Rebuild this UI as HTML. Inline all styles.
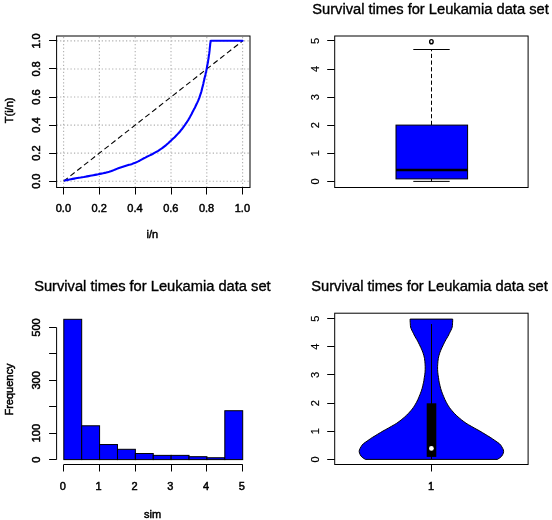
<!DOCTYPE html>
<html><head><meta charset="utf-8"><title>Survival times for Leukamia data set</title>
<style>
html,body{margin:0;padding:0;background:#fff;}
svg{display:block;}
text{font-family:"Liberation Sans",sans-serif;fill:#000;stroke:#000;stroke-width:0.3px;}
.t{font-size:11.6px;text-anchor:middle;stroke-width:0.5px;}
.u{font-size:11.6px;text-anchor:middle;stroke-width:0.2px;}
.m{font-size:14.68px;text-anchor:middle;stroke-width:0.35px;}
.l{stroke:#000;stroke-width:1;fill:none;}
.b{stroke:#000;stroke-width:1;fill:#0000ff;}
.g{stroke:#b0b0b0;stroke-width:1.1;fill:none;stroke-dasharray:1.25 2.22;}
</style></head><body>
<svg width="552" height="520" viewBox="0 0 552 520">
<rect width="552" height="520" fill="#fff"/>

<g id="p1">
<path class="g" d="M63.60 187.5 V36.0"/>
<path class="g" d="M56.6 181.20 H250.0"/>
<path class="g" d="M99.40 187.5 V36.0"/>
<path class="g" d="M56.6 153.14 H250.0"/>
<path class="g" d="M135.20 187.5 V36.0"/>
<path class="g" d="M56.6 125.08 H250.0"/>
<path class="g" d="M171.00 187.5 V36.0"/>
<path class="g" d="M56.6 97.02 H250.0"/>
<path class="g" d="M206.80 187.5 V36.0"/>
<path class="g" d="M56.6 68.96 H250.0"/>
<path class="g" d="M242.60 187.5 V36.0"/>
<path class="g" d="M56.6 40.90 H250.0"/>
<rect class="l" x="56.6" y="36.0" width="193.4" height="151.5"/>
<path class="l" d="M63.5 187.5 v7"/>
<path class="l" d="M56.6 181.5 h-7.5"/>
<text class="t" transform="translate(63.40,212) scale(0.95,1)">0.0</text>
<text class="t" transform="translate(39.9,181.20) rotate(-90) scale(0.95,1)">0.0</text>
<path class="l" d="M99.5 187.5 v7"/>
<path class="l" d="M56.6 153.5 h-7.5"/>
<text class="t" transform="translate(99.20,212) scale(0.95,1)">0.2</text>
<text class="t" transform="translate(39.9,153.14) rotate(-90) scale(0.95,1)">0.2</text>
<path class="l" d="M135.5 187.5 v7"/>
<path class="l" d="M56.6 125.5 h-7.5"/>
<text class="t" transform="translate(135.00,212) scale(0.95,1)">0.4</text>
<text class="t" transform="translate(39.9,125.08) rotate(-90) scale(0.95,1)">0.4</text>
<path class="l" d="M171.5 187.5 v7"/>
<path class="l" d="M56.6 97.5 h-7.5"/>
<text class="t" transform="translate(170.80,212) scale(0.95,1)">0.6</text>
<text class="t" transform="translate(39.9,97.02) rotate(-90) scale(0.95,1)">0.6</text>
<path class="l" d="M206.5 187.5 v7"/>
<path class="l" d="M56.6 68.5 h-7.5"/>
<text class="t" transform="translate(206.60,212) scale(0.95,1)">0.8</text>
<text class="t" transform="translate(39.9,68.96) rotate(-90) scale(0.95,1)">0.8</text>
<path class="l" d="M242.5 187.5 v7"/>
<path class="l" d="M56.6 40.5 h-7.5"/>
<text class="t" transform="translate(242.40,212) scale(0.95,1)">1.0</text>
<text class="t" transform="translate(39.9,40.90) rotate(-90) scale(0.95,1)">1.0</text>
<text class="t" transform="translate(152.3,238) scale(0.95,1)">i/n</text>
<text class="t" transform="translate(13.0,110.4) rotate(-90) scale(0.95,1)">T(i/n)</text>
<path class="l" style="stroke-width:1.1" stroke-dasharray="5.4 3.25" d="M63.6 181.2 L242.6 40.89999999999998"/>
<path d="M64.7 180.6 L66.3 180.2 L67.9 179.9 L69.4 179.5 L71.0 179.2 L72.6 178.9 L74.2 178.6 L75.8 178.3 L77.4 178.0 L79.0 177.7 L80.6 177.5 L82.2 177.2 L83.8 177.0 L85.4 176.7 L87.0 176.4 L88.6 176.1 L90.2 175.8 L91.8 175.5 L93.4 175.2 L95.0 174.9 L96.5 174.6 L98.1 174.3 L99.7 173.9 L101.3 173.6 L102.9 173.3 L104.5 172.9 L106.1 172.6 L107.6 172.2 L109.2 171.8 L110.7 171.3 L112.3 170.7 L113.8 170.1 L115.3 169.5 L116.8 168.9 L118.3 168.3 L119.8 167.8 L121.4 167.3 L122.9 166.8 L124.4 166.3 L126.0 165.8 L127.5 165.3 L129.1 164.8 L130.6 164.4 L132.2 163.9 L133.7 163.3 L135.2 162.8 L136.7 162.1 L138.2 161.4 L139.6 160.7 L141.0 159.9 L142.4 159.1 L143.9 158.3 L145.3 157.6 L146.7 156.8 L148.2 156.1 L149.7 155.4 L151.1 154.7 L152.6 154.0 L154.0 153.2 L155.4 152.4 L156.8 151.6 L158.2 150.8 L159.6 149.9 L160.9 149.0 L162.2 148.1 L163.5 147.1 L164.8 146.1 L166.1 145.1 L167.3 144.0 L168.5 143.0 L169.7 141.8 L170.9 140.7 L172.1 139.6 L173.2 138.5 L174.4 137.4 L175.6 136.2 L176.7 135.1 L177.8 133.9 L178.9 132.7 L180.0 131.5 L181.0 130.2 L182.0 129.0 L183.0 127.7 L183.9 126.4 L184.9 125.0 L185.8 123.7 L186.7 122.4 L187.6 121.0 L188.5 119.6 L189.3 118.2 L190.1 116.8 L190.8 115.4 L191.6 114.0 L192.3 112.5 L193.1 111.1 L193.8 109.6 L194.6 108.2 L195.3 106.8 L196.0 105.3 L196.7 103.8 L197.4 102.4 L198.1 100.9 L198.7 99.4 L199.3 97.9 L199.8 96.4 L200.3 94.8 L200.8 93.3 L201.3 91.7 L201.7 90.2 L202.1 88.6 L202.5 87.0 L202.9 85.4 L203.3 83.9 L203.6 82.3 L204.0 80.7 L204.4 79.1 L204.7 77.5 L205.1 76.0 L205.5 74.4 L205.8 72.8 L206.2 71.2 L206.5 69.6 L206.8 68.1 L207.1 66.5 L207.4 64.9 L207.7 63.3 L208.0 61.7 L208.2 60.1 L208.5 58.5 L208.7 56.9 L208.9 55.3 L209.2 53.7 L209.4 52.0 L209.6 50.4 L209.7 48.8 L209.9 47.2 L210.1 45.6 L210.2 44.0 L210.5 42.4 L210.8 40.8 L242.6 40.8" fill="none" stroke="#0000ff" stroke-width="2.1" stroke-linejoin="round" stroke-linecap="round"/>
</g>
<g id="p2">
<text class="m" x="430.5" y="13.9">Survival times for Leukamia data set</text>
<rect class="l" x="334.7" y="36.0" width="193.40000000000003" height="151.5"/>
<path class="l" d="M334.7 181.5 h-7.5"/>
<text class="u" transform="translate(318.9,181.40) rotate(-90) scale(0.95,1)">0</text>
<path class="l" d="M334.7 153.5 h-7.5"/>
<text class="u" transform="translate(318.9,153.30) rotate(-90) scale(0.95,1)">1</text>
<path class="l" d="M334.7 125.5 h-7.5"/>
<text class="u" transform="translate(318.9,125.20) rotate(-90) scale(0.95,1)">2</text>
<path class="l" d="M334.7 97.5 h-7.5"/>
<text class="u" transform="translate(318.9,97.10) rotate(-90) scale(0.95,1)">3</text>
<path class="l" d="M334.7 69.5 h-7.5"/>
<text class="u" transform="translate(318.9,69.00) rotate(-90) scale(0.95,1)">4</text>
<path class="l" d="M334.7 40.5 h-7.5"/>
<text class="u" transform="translate(318.9,40.90) rotate(-90) scale(0.95,1)">5</text>
<path class="l" stroke-dasharray="4.2 2.5" d="M431.5 125 V49.5"/>
<path class="l" d="M431.5 179 V181.4"/>
<path class="l" d="M413.3 49.5 H449.7 M413.3 181.4 H449.7"/>
<rect class="b" x="396" y="125.1" width="71.6" height="53.8"/>
<path d="M396 170.1 H467.6" stroke="#000" stroke-width="2.5" fill="none"/>
<ellipse class="l" style="stroke-width:1.4" cx="431.4" cy="41.7" rx="1.75" ry="2.1"/>
</g>
<g id="p3">
<text class="m" x="152.4" y="291.3">Survival times for Leukamia data set</text>
<rect class="b" x="63.80" y="319.31" width="17.89" height="140.29"/>
<rect class="b" x="81.69" y="425.78" width="17.89" height="33.82"/>
<rect class="b" x="99.58" y="444.54" width="17.89" height="15.06"/>
<rect class="b" x="117.47" y="449.30" width="17.89" height="10.30"/>
<rect class="b" x="135.36" y="453.52" width="17.89" height="6.08"/>
<rect class="b" x="153.25" y="455.37" width="17.89" height="4.23"/>
<rect class="b" x="171.14" y="455.37" width="17.89" height="4.23"/>
<rect class="b" x="189.03" y="456.69" width="17.89" height="2.91"/>
<rect class="b" x="206.92" y="457.75" width="17.89" height="1.85"/>
<rect class="b" x="224.81" y="410.72" width="17.89" height="48.88"/>
<path class="l" d="M63.8 464.5 H242.7"/>
<path class="l" d="M63.5 464.5 v7"/>
<text class="t" transform="translate(62.90,490.2) scale(0.95,1)">0</text>
<path class="l" d="M99.5 464.5 v7"/>
<text class="t" transform="translate(98.68,490.2) scale(0.95,1)">1</text>
<path class="l" d="M135.5 464.5 v7"/>
<text class="t" transform="translate(134.46,490.2) scale(0.95,1)">2</text>
<path class="l" d="M171.5 464.5 v7"/>
<text class="t" transform="translate(170.24,490.2) scale(0.95,1)">3</text>
<path class="l" d="M206.5 464.5 v7"/>
<text class="t" transform="translate(206.02,490.2) scale(0.95,1)">4</text>
<path class="l" d="M242.5 464.5 v7"/>
<text class="t" transform="translate(241.80,490.2) scale(0.95,1)">5</text>
<path class="l" d="M56.6 459.6 V327.5"/>
<path class="l" d="M56.6 459.5 h-7.5"/>
<text class="t" transform="translate(40.3,459.60) rotate(-90) scale(0.95,1)">0</text>
<path class="l" d="M56.6 433.5 h-7.5"/>
<text class="t" transform="translate(40.3,433.18) rotate(-90) scale(0.95,1)">100</text>
<path class="l" d="M56.6 406.5 h-7.5"/>
<path class="l" d="M56.6 380.5 h-7.5"/>
<text class="t" transform="translate(40.3,380.34) rotate(-90) scale(0.95,1)">300</text>
<path class="l" d="M56.6 353.5 h-7.5"/>
<path class="l" d="M56.6 327.5 h-7.5"/>
<text class="t" transform="translate(40.3,327.50) rotate(-90) scale(0.95,1)">500</text>
<text class="t" transform="translate(152.5,518) scale(0.95,1)">sim</text>
<text class="t" transform="translate(12.8,389.6) rotate(-90) scale(0.95,1)">Frequency</text>
</g>
<g id="p4">
<text class="m" x="429.5" y="291.3">Survival times for Leukamia data set</text>
<rect class="l" x="334.7" y="313.2" width="193.40000000000003" height="151.3"/>
<path class="l" d="M334.7 459.5 h-7.5"/>
<text class="u" transform="translate(318.9,459.40) rotate(-90) scale(0.95,1)">0</text>
<path class="l" d="M334.7 431.5 h-7.5"/>
<text class="u" transform="translate(318.9,431.24) rotate(-90) scale(0.95,1)">1</text>
<path class="l" d="M334.7 403.5 h-7.5"/>
<text class="u" transform="translate(318.9,403.08) rotate(-90) scale(0.95,1)">2</text>
<path class="l" d="M334.7 374.5 h-7.5"/>
<text class="u" transform="translate(318.9,374.92) rotate(-90) scale(0.95,1)">3</text>
<path class="l" d="M334.7 346.5 h-7.5"/>
<text class="u" transform="translate(318.9,346.76) rotate(-90) scale(0.95,1)">4</text>
<path class="l" d="M334.7 318.5 h-7.5"/>
<text class="u" transform="translate(318.9,318.60) rotate(-90) scale(0.95,1)">5</text>
<path class="l" d="M431.5 464.5 v7"/>
<text class="t" transform="translate(431,490) scale(0.95,1)">1</text>
<path d="M365.4 459.4 L362.9 457.8 L361.1 456.2 L360.2 454.7 L359.5 453.1 L359.2 451.5 L359.4 449.9 L360.1 448.4 L361.0 446.8 L362.0 445.2 L363.5 443.6 L365.6 442.1 L367.9 440.5 L370.2 438.9 L372.6 437.3 L375.1 435.8 L377.7 434.2 L380.4 432.6 L383.0 431.0 L385.8 429.5 L388.7 427.9 L391.5 426.3 L394.3 424.7 L396.8 423.2 L399.0 421.6 L401.1 420.0 L403.0 418.4 L404.8 416.9 L406.5 415.3 L408.1 413.7 L409.6 412.1 L411.0 410.5 L412.3 409.0 L413.4 407.4 L414.5 405.8 L415.4 404.2 L416.3 402.7 L417.1 401.1 L417.9 399.5 L418.6 397.9 L419.2 396.4 L419.9 394.8 L420.5 393.2 L421.1 391.6 L421.6 390.1 L422.1 388.5 L422.5 386.9 L422.9 385.3 L423.2 383.8 L423.6 382.2 L423.9 380.6 L424.1 379.0 L424.3 377.5 L424.6 375.9 L424.8 374.3 L425.0 372.7 L425.1 371.2 L425.2 369.6 L425.2 368.0 L425.2 366.4 L425.1 364.8 L425.0 363.3 L424.9 361.7 L424.7 360.1 L424.5 358.5 L424.2 357.0 L423.8 355.4 L423.3 353.8 L422.8 352.2 L422.2 350.7 L421.5 349.1 L420.8 347.5 L420.0 345.9 L419.3 344.4 L418.5 342.8 L417.7 341.2 L416.8 339.6 L415.9 338.1 L415.0 336.5 L414.1 334.9 L413.4 333.3 L412.6 331.8 L411.8 330.2 L411.1 328.6 L410.6 327.0 L410.4 325.5 L410.3 323.9 L410.2 322.3 L410.1 320.7 L410.1 319.1 L452.7 319.1 L452.7 320.7 L452.6 322.3 L452.5 323.9 L452.4 325.5 L452.2 327.0 L451.7 328.6 L451.0 330.2 L450.2 331.8 L449.4 333.3 L448.7 334.9 L447.8 336.5 L446.9 338.1 L446.0 339.6 L445.1 341.2 L444.3 342.8 L443.5 344.4 L442.8 345.9 L442.0 347.5 L441.3 349.1 L440.6 350.7 L440.0 352.2 L439.5 353.8 L439.0 355.4 L438.6 357.0 L438.3 358.5 L438.1 360.1 L437.9 361.7 L437.8 363.3 L437.7 364.8 L437.6 366.4 L437.6 368.0 L437.6 369.6 L437.7 371.2 L437.8 372.7 L438.0 374.3 L438.2 375.9 L438.5 377.5 L438.7 379.0 L438.9 380.6 L439.2 382.2 L439.6 383.8 L439.9 385.3 L440.3 386.9 L440.7 388.5 L441.2 390.1 L441.7 391.6 L442.3 393.2 L442.9 394.8 L443.6 396.4 L444.2 397.9 L444.9 399.5 L445.7 401.1 L446.5 402.7 L447.4 404.2 L448.3 405.8 L449.4 407.4 L450.5 409.0 L451.8 410.5 L453.2 412.1 L454.7 413.7 L456.3 415.3 L458.0 416.9 L459.8 418.4 L461.7 420.0 L463.8 421.6 L466.0 423.2 L468.5 424.7 L471.3 426.3 L474.1 427.9 L477.0 429.5 L479.8 431.0 L482.4 432.6 L485.1 434.2 L487.7 435.8 L490.2 437.3 L492.6 438.9 L494.9 440.5 L497.2 442.1 L499.3 443.6 L500.8 445.2 L501.8 446.8 L502.7 448.4 L503.4 449.9 L503.6 451.5 L503.3 453.1 L502.6 454.7 L501.7 456.2 L499.9 457.8 L497.4 459.4 Z" fill="#0000ff" stroke="#000" stroke-width="1" stroke-linejoin="round"/>
<path class="l" d="M431.5 324 V459"/>
<rect x="426.7" y="403.3" width="9.6" height="53.6" fill="#000"/>
<circle cx="431.4" cy="448.4" r="2.4" fill="#fff"/>
</g>
</svg></body></html>
